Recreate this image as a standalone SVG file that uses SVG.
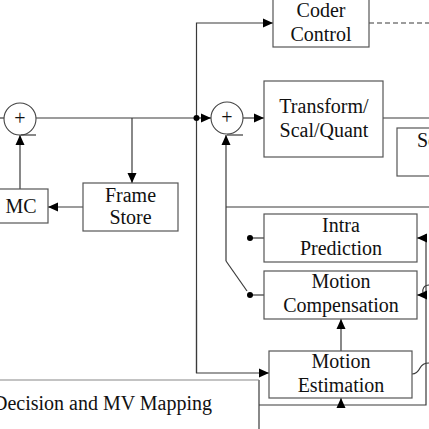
<svg xmlns="http://www.w3.org/2000/svg" width="429" height="429" viewBox="0 0 429 429">
<defs>
<marker id="ah" viewBox="0 0 10 10" refX="10" refY="5" markerWidth="10" markerHeight="10" markerUnits="userSpaceOnUse" orient="auto">
<path d="M0,0.5 L10,5 L0,9.5 Z" fill="#000"/>
</marker>
</defs>
<style>
.box{fill:#fff;stroke:#555;stroke-width:1.2}
.ln{fill:none;stroke:#3a3a3a;stroke-width:1.2}
.t{font-size:20px;fill:#111;text-anchor:middle}
.dot{fill:#000}
</style>
<rect width="429" height="429" fill="#fff"/>
<g id="connectors">
<line class="ln" x1="0" y1="118" x2="4" y2="118"/>
<line class="ln" x1="36" y1="118" x2="196.5" y2="118"/>
<line class="ln" x1="196.5" y1="118" x2="211" y2="118" marker-end="url(#ah)"/>
<line class="ln" x1="132" y1="118" x2="132" y2="183" marker-end="url(#ah)"/>
<line class="ln" x1="83" y1="207" x2="48" y2="207" marker-end="url(#ah)"/>
<line class="ln" x1="20" y1="189" x2="20" y2="135" marker-end="url(#ah)"/>
<polyline class="ln" points="196.5,373 196.5,23 273,23" marker-end="url(#ah)"/>
<polyline class="ln" points="196.5,300 196.5,373 269,373" marker-end="url(#ah)"/>
<line class="ln" x1="369" y1="23" x2="429" y2="23" stroke-dasharray="5,3"/>
<line class="ln" x1="243" y1="118" x2="264" y2="118" marker-end="url(#ah)"/>
<line class="ln" x1="383" y1="118" x2="429" y2="118"/>
<line class="ln" x1="226" y1="207" x2="429" y2="207"/>
<polyline class="ln" points="226,261 226,135" marker-end="url(#ah)"/>
<line class="ln" x1="226" y1="261" x2="247" y2="291"/>
<line class="ln" x1="250" y1="238" x2="264" y2="238"/>
<line class="ln" x1="250" y1="295" x2="264" y2="295"/>
<line class="ln" x1="341" y1="351" x2="341" y2="319" marker-end="url(#ah)"/>
<polyline class="ln" points="259,405 426,405 426,234"/>
<line class="ln" x1="426" y1="238" x2="417" y2="238" marker-end="url(#ah)"/>
<line class="ln" x1="426" y1="295" x2="417" y2="295" marker-end="url(#ah)"/>
<line class="ln" x1="341" y1="405" x2="341" y2="398" marker-end="url(#ah)"/>
<line class="ln" x1="259" y1="380" x2="259" y2="429"/>
<path class="ln" d="M429,285 C424,285 422,289 423,293"/>
<path class="ln" d="M412,374 C416,374 418,372 420,368 C422,364 425,363 429,363"/>
<circle class="dot" cx="196.5" cy="118" r="3"/>
<circle class="dot" cx="250" cy="238" r="3"/>
<circle class="dot" cx="250" cy="295" r="3"/>
</g>
<g font-family="Liberation Serif, Times New Roman, serif">
<g id="sum1">
<circle cx="20" cy="119" r="16" fill="#fff" stroke="#444" stroke-width="1.1"/>
<text class="t" x="20" y="125" font-size="17">+</text>
<line class="ln" x1="21" y1="135" x2="36" y2="135"/>
</g>
<g id="sum2">
<circle cx="227" cy="118" r="16" fill="#fff" stroke="#444" stroke-width="1.1"/>
<text class="t" x="227" y="124" font-size="17">+</text>
<line class="ln" x1="227" y1="135" x2="243" y2="135"/>
</g>
<g id="mc">
<rect class="box" x="-2" y="189" width="50" height="34"/>
<text class="t" x="21" y="213">MC</text>
</g>
<g id="frame-store">
<rect class="box" x="83" y="183" width="95" height="48"/>
<text class="t" x="130.5" y="202">Frame</text>
<text class="t" x="130.5" y="224">Store</text>
</g>
<g id="coder-control">
<rect class="box" x="273" y="-2" width="96" height="49"/>
<text class="t" x="321" y="17">Coder</text>
<text class="t" x="321" y="41">Control</text>
</g>
<g id="transform">
<rect class="box" x="264" y="81" width="119" height="76"/>
<text class="t" x="324" y="113">Transform/</text>
<text class="t" x="324" y="137">Scal/Quant</text>
</g>
<g id="scaling">
<rect class="box" x="397" y="128" width="40" height="48"/>
<text class="t" x="417" y="147" text-anchor="start" style="text-anchor:start">Scaling &amp; Inv.</text>
</g>
<g id="intra">
<rect class="box" x="264" y="214" width="153" height="48"/>
<text class="t" x="341" y="232">Intra</text>
<text class="t" x="341" y="255">Prediction</text>
</g>
<g id="motion-comp">
<rect class="box" x="264" y="271" width="153" height="48"/>
<text class="t" x="341" y="288">Motion</text>
<text class="t" x="341" y="312">Compensation</text>
</g>
<g id="motion-est">
<rect class="box" x="269" y="351" width="143" height="47"/>
<text class="t" x="341" y="368">Motion</text>
<text class="t" x="341" y="392">Estimation</text>
</g>
<g id="mode-decision">
<polyline points="0,380 259,380" fill="none" stroke="#888" stroke-width="1.2"/>
<text class="t" x="212" y="410" text-anchor="end" style="text-anchor:end">Decision and MV Mapping</text>
</g>
</g>
</svg>
